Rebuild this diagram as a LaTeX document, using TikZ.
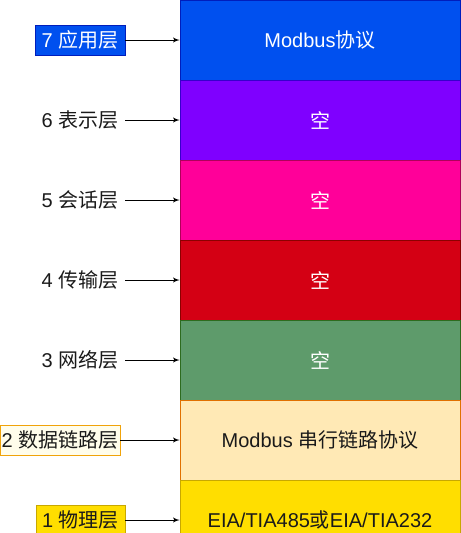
\documentclass[tikz,border=0pt]{standalone}
\usepackage{fontspec}
\setmainfont{Liberation Sans}
\newfontfamily\cjk{Noto Sans CJK SC}
\usetikzlibrary{arrows}
\definecolor{appblue}{HTML}{0050EF}
\definecolor{appline}{HTML}{001DBC}
\definecolor{presviolet}{HTML}{7F00FF}
\definecolor{presline}{HTML}{3700CC}
\definecolor{sesspink}{HTML}{FF0099}
\definecolor{sessline}{HTML}{B0005A}
\definecolor{transred}{HTML}{D40014}
\definecolor{transline}{HTML}{8C0000}
\definecolor{netgreen}{HTML}{5E9B6B}
\definecolor{netline}{HTML}{2D6B1E}
\definecolor{linkcream}{HTML}{FFE9B5}
\definecolor{linkline}{HTML}{E07000}
\definecolor{linklabel}{HTML}{FFFDEB}
\definecolor{linklabelline}{HTML}{F0A30A}
\definecolor{physgold}{HTML}{FFDE00}
\definecolor{physline}{HTML}{C8A800}
\definecolor{txt}{HTML}{1A1A1A}
\tikzstyle{layer} = [rectangle, draw, minimum width=210pt, minimum height=60pt,
    inner sep=0pt, font=\fontsize{15}{18}\selectfont]
\tikzstyle{tag} = [rectangle, inner sep=0pt, minimum height=22.5pt,
    font=\fontsize{15}{18}\selectfont, text=txt]
\tikzstyle{line} = [draw, -latex', line width=0.75pt]

\begin{document}
\begin{tikzpicture}[x=0.75pt, y=-0.75pt]
                \useasboundingbox (0,0) rectangle (461,533);
                % layers
                \node [layer, fill=appblue, draw=appline, text=white] at (320,40) (app) {Modbus{\cjk 协议}};
                \node [layer, fill=presviolet, draw=presline, text=white] at (320,120) (pres) {\cjk 空};
                \node [layer, fill=sesspink, draw=sessline, text=white] at (320,200) (sess) {\cjk 空};
                \node [layer, fill=transred, draw=transline, text=white] at (320,280) (trans) {\cjk 空};
                \node [layer, fill=netgreen, draw=netline, text=white] at (320,360) (net) {\cjk 空};
                \node [layer, fill=linkcream, draw=linkline, text=txt] at (320,440) (link) {Modbus {\cjk 串行链路协议}};
                \node [layer, fill=physgold, draw=physline, text=txt] at (320,520) (phys) {};
                \node [text=txt, font=\fontsize{15}{18}\selectfont] at (320,520) (physname) {EIA/TIA485{\cjk 或}EIA/TIA232};
                % labels
                \node [tag, fill=appblue, draw=appline, text=white, minimum width=67.5pt] at (80,40) (tapp) {7 {\cjk 应用层}};
                \node [tag, minimum width=67.5pt] at (80,120) (tpres) {6 {\cjk 表示层}};
                \node [tag, minimum width=67.5pt] at (80,200) (tsess) {5 {\cjk 会话层}};
                \node [tag, minimum width=67.5pt] at (80,280) (ttrans) {4 {\cjk 传输层}};
                \node [tag, minimum width=67.5pt] at (80,360) (tnet) {3 {\cjk 网络层}};
                \node [tag, fill=linklabel, draw=linklabelline, minimum width=90pt] at (60,440) (tlink) {2 {\cjk 数据链路层}};
                \node [tag, fill=physgold, draw=physline, minimum width=67pt] at (80.5,520) (tphys) {1 {\cjk 物理层}};
                % arrows
                \path [line] (tapp) -- (app);
                \path [line] (tpres) -- (pres);
                \path [line] (tsess) -- (sess);
                \path [line] (ttrans) -- (trans);
                \path [line] (tnet) -- (net);
                \path [line] (tlink) -- (link);
                \path [line] (tphys) -- (phys);
            \end{tikzpicture}
\end{document}
